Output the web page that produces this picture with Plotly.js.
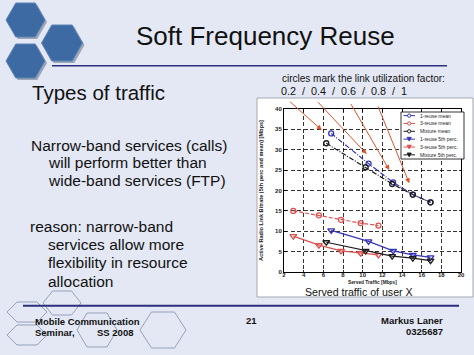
<!DOCTYPE html>
<html><head><meta charset="utf-8">
<script src="https://cdn.plot.ly/plotly-3.0.1.min.js"></script>
<style>html,body{margin:0;padding:0;background:#e4e8f4;}#chart{width:474px;height:355px;}</style>
</head><body><div id="chart"></div>
<script>
// ---- data ----
const xReuse1 = [6.8, 10.6, 13.1, 15.1, 16.9];
const xReuse3 = [2.95, 5.55, 7.8, 9.8, 11.6];
const xMixture = [6.3, 10.3, 13.0, 15.1, 16.9];
const reuse1Mean = [34.0, 26.6, 22.0, 19.0, 17.1];
const reuse3Mean = [15.0, 13.9, 12.8, 12.0, 11.4];
const mixtureMean = [31.6, 25.7, 21.6, 19.0, 17.1];
const reuse1P5 = [10.2, 7.5, 5.2, 4.2, 3.6];
const reuse3P5 = [8.8, 6.6, 5.2, 4.6, 4.2];
const mixtureP5 = [7.3, 5.2, 3.9, 3.4, 2.8];
const seriesNames = ["1-reuse mean", "3-reuse mean", "Mixture mean", "1-reuse 5th perc.", "3-reuse 5th perc.", "Mixture 5th perc."];
const xTicks = [2, 4, 6, 8, 10, 12, 14, 16, 18, 20];
const yTicks = [0, 5, 10, 15, 20, 25, 30, 35, 40];
const utilLabels = ["0.2", "0.4", "0.6", "0.8", "1"];

// ---- styling ----
const BLUE = "#3636b4", RED = "#dd5050", BLACK = "#1c1c1c";
const FONT = "Liberation Sans, Arial, sans-serif";
const L = 284, T = 109, W = 177, H = 163;
const px = x => (x - L) / W;
const py = y => (T + H - y) / H;

function hexPath(cx, cy, rx, ry) {
  const pts = [[cx - rx, cy], [cx - rx / 2, cy - ry], [cx + rx / 2, cy - ry], [cx + rx, cy], [cx + rx / 2, cy + ry], [cx - rx / 2, cy + ry]];
  return "M" + pts.map(p => px(p[0]).toFixed(5) + "," + py(p[1]).toFixed(5)).join(" L") + " Z";
}

const traces = [
  {x: xReuse1, y: reuse1Mean, color: BLUE, dash: "5px,1.5px,1px,1.5px", sym: "circle-open"},
  {x: xReuse3, y: reuse3Mean, color: RED, dash: "4px,2px", sym: "circle-open"},
  {x: xMixture, y: mixtureMean, color: BLACK, dash: "5px,1.5px,1px,1.5px", sym: "circle-open"},
  {x: xReuse1, y: reuse1P5, color: BLUE, dash: "solid", sym: "triangle-down-open"},
  {x: xReuse3, y: reuse3P5, color: RED, dash: "solid", sym: "triangle-down-open"},
  {x: xMixture, y: mixtureP5, color: BLACK, dash: "solid", sym: "triangle-down-open"}
].map((s, i) => ({
  type: "scatter", mode: "lines+markers", name: seriesNames[i], x: s.x, y: s.y,
  line: {color: s.color, width: 1.2, dash: s.dash},
  marker: {symbol: s.sym, size: s.sym === "circle-open" ? 5 : 6, color: s.color, line: {width: 1.3, color: s.color}},
  showlegend: false, hoverinfo: "skip"
}));

const shapes = [];
const annotations = [];

// chart white panel
shapes.push({type: "rect", xref: "paper", yref: "paper", x0: px(257), x1: px(473), y0: py(297), y1: py(98),
  fillcolor: "#ffffff", line: {color: "#a4a8b4", width: 1}, layer: "below"});

// title underline & footer line
shapes.push({type: "line", xref: "paper", yref: "paper", x0: px(52), x1: px(447), y0: py(65.7), y1: py(65.7), line: {color: "#2c2f7e", width: 1.6}});
// footer hex outlines
[[62, 303, 19, 12], [27, 312, 20, 10], [27, 335, 20, 10], [97, 330, 20, 17], [163, 330, 23, 18]].forEach(h => {
  shapes.push({type: "path", xref: "paper", yref: "paper", path: hexPath(h[0], h[1], h[2], h[3]), line: {color: "#8c98b4", width: 0.9}, fillcolor: "rgba(0,0,0,0)", layer: "below"});
});
shapes.push({type: "line", xref: "paper", yref: "paper", x0: px(23), x1: px(459), y0: py(305.7), y1: py(305.7), line: {color: "#2c2f7e", width: 2}});

// top-left hexagons (shadow + fill)
[[25.5, 20, 19.5, 17], [62, 43, 20.5, 18], [25.5, 61, 19.5, 17]].forEach(h => {
  shapes.push({type: "path", xref: "paper", yref: "paper", path: hexPath(h[0] + 2, h[1] + 2, h[2], h[3]), line: {width: 0}, fillcolor: "#9ea6b6"});
  shapes.push({type: "path", xref: "paper", yref: "paper", path: hexPath(h[0], h[1], h[2], h[3]), line: {color: "#5b86b8", width: 1}, fillcolor: "#3d6aa2"});
});

// manual legend
shapes.push({type: "rect", xref: "paper", yref: "paper", x0: px(401), x1: px(464), y0: py(159), y1: py(112), fillcolor: "#ffffff", line: {color: "#000", width: 0.8}});
const legStyles = [[BLUE, "c"], [RED, "c"], [BLACK, "c"], [BLUE, "t"], [RED, "t"], [BLACK, "t"]];
legStyles.forEach((s, i) => {
  const yy = 115.6 + i * 7.85;
  shapes.push({type: "line", xref: "paper", yref: "paper", x0: px(403.5), x1: px(415), y0: py(yy), y1: py(yy), line: {color: s[0], width: 1}});
  if (s[1] === "c") {
    shapes.push({type: "circle", xref: "paper", yref: "paper", x0: px(407.5), x1: px(410.8), y0: py(yy + 1.65), y1: py(yy - 1.65), line: {color: s[0], width: 1}, fillcolor: "#fff"});
  } else {
    const p = "M" + px(407.2) + "," + py(yy - 1.8) + " L" + px(411.2) + "," + py(yy - 1.8) + " L" + px(409.2) + "," + py(yy + 1.9) + " Z";
    shapes.push({type: "path", xref: "paper", yref: "paper", path: p, line: {color: s[0], width: 1}, fillcolor: s[0]});
  }
  annotations.push({xref: "paper", yref: "paper", x: px(418), y: py(yy), xanchor: "left", yanchor: "middle", showarrow: false,
    text: seriesNames[i], font: {family: FONT, size: 5, color: "#222"}});
});

function txt(t, x, y, size, opts) {
  opts = opts || {};
  annotations.push({xref: "paper", yref: "paper", x: px(x), y: py(y), xanchor: opts.xa || "left", yanchor: "middle",
    showarrow: false, text: t, font: {family: FONT, size: size, color: opts.color || "#111", weight: opts.weight || "normal"}});
}

// slide texts
txt("Soft Frequency Reuse", 265, 36, 26, {xa: "center"});
txt("Types of traffic", 30, 93, 20.5);
txt("Narrow-band services (calls)", 29, 145, 15.5);
txt("will perform better than", 46, 162.5, 15.5);
txt("wide-band services (FTP)", 46, 180, 15.5);
txt("reason: narrow-band", 28, 226, 15.5);
txt("services allow more", 46, 244, 15.5);
txt("flexibility in resource", 46, 262, 15.5);
txt("allocation", 46, 281, 15.5);
txt("circles mark the link utilization factor:", 280, 78, 10);
txt(utilLabels.join("\u00a0 / \u00a0"), 279, 91, 10.8);
txt("Served traffic of user X", 359, 291.5, 10.6, {xa: "center"});
// x-axis title (placed as text just under the tick labels)
txt("Served Traffic [Mbps]", 372, 282.6, 4.8, {xa: "center", weight: "bold", color: "#222"});
txt("Mobile Communication", 33, 321, 9.5, {weight: "bold"});
txt("Seminar,", 33, 332, 9.5, {weight: "bold"});
txt("SS 2008", 95, 332, 9.5, {weight: "bold"});
txt("21", 251.5, 320, 9.5, {weight: "bold", xa: "center"});
txt("Markus Laner", 445, 320, 9.5, {weight: "bold", xa: "right"});
txt("0325687", 445, 331.5, 9.5, {weight: "bold", xa: "right"});

// arrows from utilization labels to points
[[321.7, 130, 287, 99], [366.7, 154, 315, 99], [389.3, 170, 348, 99], [409.3, 183.3, 375, 99]].forEach(a => {
  annotations.push({xref: "paper", yref: "paper", x: px(a[0]), y: py(a[1]), ax: a[2] - a[0], ay: a[3] - a[1],
    text: " ", showarrow: true, arrowhead: 2, arrowsize: 1, arrowwidth: 1, arrowcolor: "#e0522c", standoff: 0, startstandoff: 0});
});

const axBase = {
  showline: true, mirror: "ticks", linecolor: "#000", linewidth: 1,
  ticks: "inside", ticklen: 2.5, tickcolor: "#000", tickwidth: 0.8,
  showgrid: true, gridcolor: "#000", gridwidth: 0.8, griddash: "4px,2.5px",
  zeroline: false, tickfont: {family: FONT, size: 6, color: "#222", weight: "bold"}, fixedrange: true,
  automargin: false
};

const layout = {
  width: 474, height: 355,
  margin: {l: L, r: 474 - L - W, t: T, b: 355 - T - H, pad: 0},
  paper_bgcolor: "#e4e8f4", plot_bgcolor: "#ffffff",
  showlegend: false,
  xaxis: Object.assign({}, axBase, {range: [2, 20], tickvals: xTicks, ticktext: xTicks.map(String), ticklabelstandoff: -3}),
  yaxis: Object.assign({}, axBase, {range: [0, 40], tickvals: yTicks, ticktext: yTicks.map(String),
    title: {text: "Active Radio Link Bitrate (5th perc and mean) [Mbps]", font: {family: FONT, size: 5.6, color: "#222", weight: "bold"}}}),
  shapes: shapes, annotations: annotations
};

Plotly.newPlot("chart", traces, layout, {displayModeBar: false, staticPlot: true});
</script></body></html>
